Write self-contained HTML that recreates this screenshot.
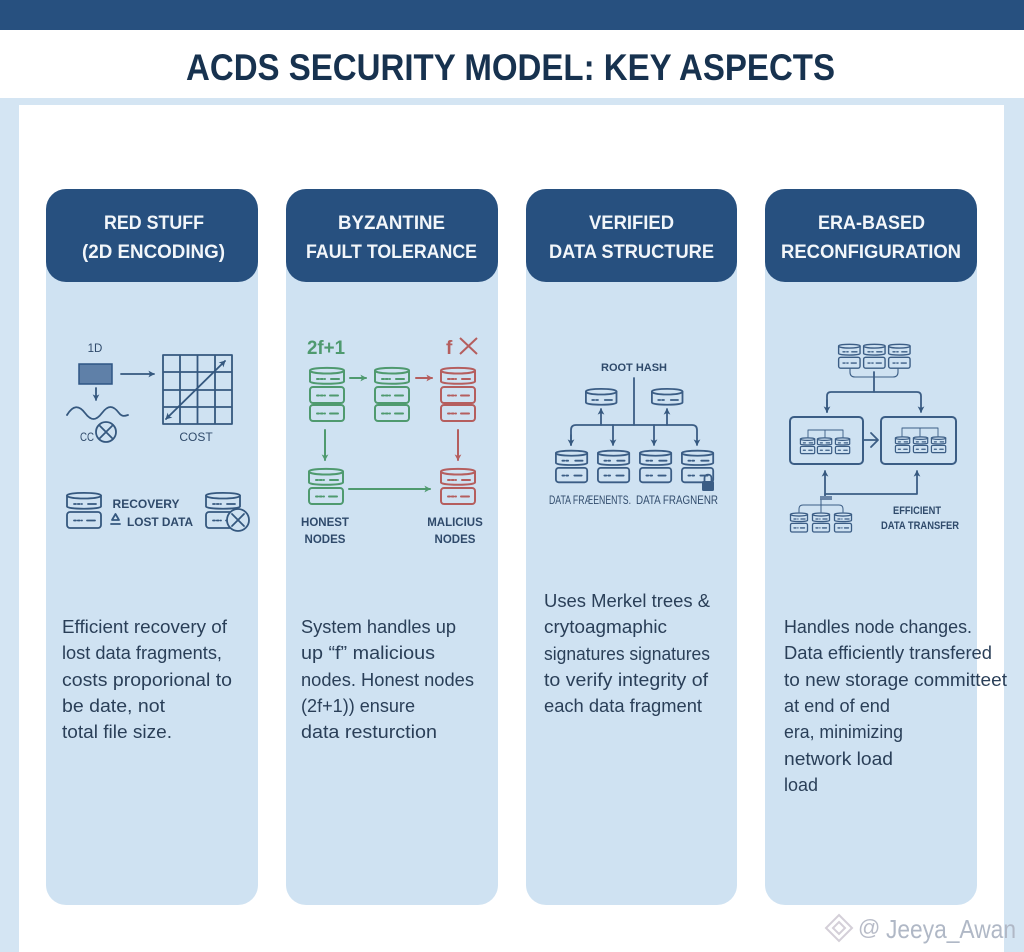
<!DOCTYPE html>
<html><head><meta charset="utf-8"><style>
html,body{margin:0;padding:0;background:#fff}
svg{display:block;font-family:"Liberation Sans",sans-serif;filter:blur(.3px)}
.h{font-size:19px;font-weight:bold;fill:#f2f6fa}
.b{font-size:18px;fill:#2a3f58}
.l{font-size:11.5px;fill:#2f4a6b}
.n{fill:none;stroke:currentColor;stroke-width:var(--sw,1.8);stroke-linecap:round;stroke-linejoin:round;vector-effect:non-scaling-stroke}
</style></head><body>
<svg width="1024" height="952" viewBox="0 0 1024 952" xmlns="http://www.w3.org/2000/svg">
<defs>
<marker id="a" viewBox="0 0 10 10" refX="8" refY="5" markerWidth="8" markerHeight="8" markerUnits="userSpaceOnUse" orient="auto-start-reverse"><path d="M1 0.8L9 5L1 9.2L3 5Z" fill="#35587f"/></marker>
<marker id="g" viewBox="0 0 10 10" refX="8" refY="5" markerWidth="8" markerHeight="8" markerUnits="userSpaceOnUse" orient="auto"><path d="M1 0.8L9 5L1 9.2L3 5Z" fill="#4f9a6f"/></marker>
<marker id="r" viewBox="0 0 10 10" refX="8" refY="5" markerWidth="8" markerHeight="8" markerUnits="userSpaceOnUse" orient="auto"><path d="M1 0.8L9 5L1 9.2L3 5Z" fill="#b55e5e"/></marker>
<g id="top"><path class="n" d="M1 4.5C1 1 35 1 35 4.5V15.500C35 18.500 1 18.500 1 15.500Z"/><path class="n" d="M1 4.5C1 8.500 35 8.500 35 4.5"/><path class="n" stroke-dasharray="2 1.8" d="M8 13H16"/><path class="n" d="M22 13H30"/></g>
<g id="tier"><rect class="n" x="1" y="0" width="34" height="16" rx="3"/><path class="n" stroke-dasharray="2 1.8" d="M8 8.500H16"/><path class="n" d="M21 8.500H29"/></g>
<g id="s3"><use href="#top" y="0"/><use href="#tier" y="21"/><use href="#tier" y="39"/></g>
<g id="s2"><use href="#top" y="0"/><use href="#tier" y="21"/></g>
</defs>

<rect width="1024" height="952" fill="#fff"/>
<rect width="1024" height="30" fill="#27507f"/>
<rect y="98" width="1024" height="854" fill="#d4e5f3"/>
<rect x="19" y="105" width="985" height="847" fill="#fff"/>
<text x="186" y="80" font-size="37" font-weight="bold" fill="#17324f" textLength="649" lengthAdjust="spacingAndGlyphs">ACDS SECURITY MODEL: KEY ASPECTS</text>

<!-- columns -->
<g fill="#cfe2f2">
<rect x="46" y="200" width="212" height="705" rx="20"/>
<rect x="286" y="200" width="212" height="705" rx="20"/>
<rect x="526" y="200" width="211" height="705" rx="20"/>
<rect x="765" y="200" width="212" height="705" rx="20"/>
</g>
<g fill="#27507f">
<rect x="46" y="189" width="212" height="93" rx="20"/>
<rect x="286" y="189" width="212" height="93" rx="20"/>
<rect x="526" y="189" width="211" height="93" rx="20"/>
<rect x="765" y="189" width="212" height="93" rx="20"/>
</g>
<text class="h" x="104" y="229" textLength="100" lengthAdjust="spacingAndGlyphs">RED STUFF</text>
<text class="h" x="82" y="258" textLength="143" lengthAdjust="spacingAndGlyphs">(2D ENCODING)</text>
<text class="h" x="338" y="229" textLength="107" lengthAdjust="spacingAndGlyphs">BYZANTINE</text>
<text class="h" x="306" y="258" textLength="171" lengthAdjust="spacingAndGlyphs">FAULT TOLERANCE</text>
<text class="h" x="589" y="229" textLength="85" lengthAdjust="spacingAndGlyphs">VERIFIED</text>
<text class="h" x="549" y="258" textLength="165" lengthAdjust="spacingAndGlyphs">DATA STRUCTURE</text>
<text class="h" x="818" y="229" textLength="107" lengthAdjust="spacingAndGlyphs">ERA-BASED</text>
<text class="h" x="781" y="258" textLength="180" lengthAdjust="spacingAndGlyphs">RECONFIGURATION</text>

<!-- col 1 diagram -->
<g color="#35587f">
<text class="l" x="95" y="352" text-anchor="middle">1D</text>
<rect x="79" y="364" width="33" height="20" fill="#5f80a8" stroke="#2f5584" stroke-width="1.5"/>
<path class="n" d="M121 374H154" marker-end="url(#a)"/>
<path class="n" d="M96 388V400" marker-end="url(#a)"/>
<path class="n" d="M67 415C73 405 79 405 85 413C91 421 96 421 102 413C108 405 113 405 119 413C122 417 125 416 128 415"/>
<text class="l" x="80" y="441" textLength="14" lengthAdjust="spacingAndGlyphs">CC</text>
<circle class="n" cx="106" cy="432" r="10"/><path class="n" d="M100 426L112 438M112 426L100 438"/>
<path class="n" d="M163 355H232V424H163ZM180 355V424M197.500 355V424M215 355V424M163 372H232M163 390H232M163 407H232"/>
<path class="n" d="M166 419L225 361" marker-start="url(#a)" marker-end="url(#a)"/>
<text class="l" x="196" y="441" text-anchor="middle" style="font-size:12px">COST</text>
<use href="#s2" x="66" y="491"/>
<text class="l" x="146" y="508" text-anchor="middle" style="font-size:12px;font-weight:bold">RECOVERY</text>
<path class="n" d="M111 524H120M112 520L115.500 514L119 520Z"/>
<text class="l" x="127" y="526" textLength="66" lengthAdjust="spacingAndGlyphs" style="font-size:12px;font-weight:bold">LOST DATA</text>
<use href="#s2" x="205" y="491"/>
<circle cx="238" cy="520" r="11" fill="#cfe2f2" stroke="currentColor" stroke-width="1.8"/><path class="n" d="M232 514L244 526M244 514L232 526"/>
</g>

<!-- col 2 diagram -->
<text x="307" y="354" font-size="19" font-weight="bold" fill="#4f9a6f" textLength="38" lengthAdjust="spacingAndGlyphs">2f+1</text>
<text x="446" y="354" font-size="19" font-weight="bold" fill="#b55e5e">f</text>
<path d="M460 338L477 354M477 338L460 354" stroke="#b55e5e" stroke-width="2" fill="none"/>
<g color="#4f9a6f" style="--sw:2">
<use href="#s3" x="309" y="366"/><use href="#s3" x="374" y="366"/><use href="#s2" x="308" y="467"/>
<path class="n" d="M350 378H366" marker-end="url(#g)"/>
<path class="n" d="M325 430V460" marker-end="url(#g)"/>
<path class="n" d="M349 489H430" marker-end="url(#g)"/>
</g>
<g color="#b55e5e" style="--sw:2">
<use href="#s3" x="440" y="366"/><use href="#s2" x="440" y="467"/>
<path class="n" d="M416 378H432" marker-end="url(#r)"/>
<path class="n" d="M458 430V460" marker-end="url(#r)"/>
</g>
<text class="l" x="325" y="526" text-anchor="middle" font-weight="bold">HONEST</text>
<text class="l" x="325" y="543" text-anchor="middle" font-weight="bold">NODES</text>
<text class="l" x="455" y="526" text-anchor="middle" font-weight="bold">MALICIUS</text>
<text class="l" x="455" y="543" text-anchor="middle" font-weight="bold">NODES</text>

<!-- col 3 diagram -->
<g color="#3b5d85">
<text class="l" x="634" y="371" text-anchor="middle" font-weight="bold" style="font-size:11px">ROOT HASH</text>
<path class="n" d="M634 378V425"/>
<use href="#top" transform="translate(585 387) scale(.9 1)"/>
<use href="#top" transform="translate(651 387) scale(.9 1)"/>
<path class="n" d="M601 425V409" marker-end="url(#a)"/>
<path class="n" d="M667 425V409" marker-end="url(#a)"/>
<path class="n" d="M571 445V430Q571 425 576 425H692Q697 425 697 430V445" marker-end="url(#a)"/>
<path class="n" d="M571 435V445" marker-end="url(#a)"/>
<path class="n" d="M613 425V445" marker-end="url(#a)"/>
<path class="n" d="M654 425V445" marker-end="url(#a)"/>
<use href="#s2" transform="translate(555 449) scale(.92 .9)"/>
<use href="#s2" transform="translate(597 449) scale(.92 .9)"/>
<use href="#s2" transform="translate(639 449) scale(.92 .9)"/>
<use href="#s2" transform="translate(681 449) scale(.92 .9)"/>
<rect x="702" y="481" width="12" height="10" rx="1.500" fill="#3b5d85"/>
<path class="n" d="M704.500 481V478C704.500 473.500 711.500 473.500 711.500 478V481"/>
<text class="l" x="549" y="504" textLength="82" lengthAdjust="spacingAndGlyphs">DATA FRÆENENTS.</text>
<text class="l" x="636" y="504" textLength="82" lengthAdjust="spacingAndGlyphs">DATA FRAGNENR</text>
</g>

<!-- col 4 diagram -->
<g color="#3b5d85">
<g style="--sw:1.4">
<use href="#s2" transform="translate(838 343) scale(.63 .68)"/>
<use href="#s2" transform="translate(863 343) scale(.63 .68)"/>
<use href="#s2" transform="translate(888 343) scale(.63 .68)"/>
</g>
<path class="n" style="--sw:1.1" d="M850 369V372Q850 377 855 377H893Q898 377 898 372V369"/>
<path class="n" d="M874 372V392"/>
<path class="n" d="M827 412V396Q827 392 831 392H917Q921 392 921 396V412" marker-end="url(#a)"/>
<path class="n" d="M827 400V412" marker-end="url(#a)"/>
<rect x="790" y="417" width="73" height="47" rx="4" fill="none" stroke="currentColor" stroke-width="2"/>
<rect x="881" y="417" width="75" height="47" rx="4" fill="none" stroke="currentColor" stroke-width="2"/>
<path class="n" d="M864 440H877M871 433L878 440L871 447"/>
<g style="--sw:1.2">
<use href="#s2" transform="translate(800 437) scale(.42 .45)"/>
<use href="#s2" transform="translate(817 437) scale(.42 .45)"/>
<use href="#s2" transform="translate(835 437) scale(.42 .45)"/>
<use href="#s2" transform="translate(895 436) scale(.42 .45)"/>
<use href="#s2" transform="translate(913 436) scale(.42 .45)"/>
<use href="#s2" transform="translate(931 436) scale(.42 .45)"/>
</g>
<path class="n" style="--sw:.9" d="M808 437V430H843V437M825 430V437"/>
<path class="n" style="--sw:.9" d="M902 436V428H938V436M920 428V436"/>
<path class="n" d="M825 496V471" marker-end="url(#a)"/>
<path class="n" d="M825 494H917V471" marker-end="url(#a)"/>
<rect x="820" y="496" width="12" height="4" fill="#6a86a8"/>
<path class="n" style="--sw:1" d="M799 512V509Q799 505 803 505H839Q843 505 843 509V512M821 500V512"/>
<g style="--sw:1.3">
<use href="#s2" transform="translate(790 512) scale(.5 .54)"/>
<use href="#s2" transform="translate(812 512) scale(.5 .54)"/>
<use href="#s2" transform="translate(834 512) scale(.5 .54)"/>
</g>
<text class="l" x="893" y="514" textLength="48" lengthAdjust="spacingAndGlyphs" font-weight="bold" style="font-size:11px">EFFICIENT</text>
<text class="l" x="881" y="529" textLength="78" lengthAdjust="spacingAndGlyphs" font-weight="bold" style="font-size:11px">DATA TRANSFER</text>
</g>

<!-- body text -->
<text class="b" x="62" y="633" textLength="165" lengthAdjust="spacingAndGlyphs">Efficient recovery of</text>
<text class="b" x="62" y="659" textLength="160" lengthAdjust="spacingAndGlyphs">lost data fragments,</text>
<text class="b" x="62" y="686" textLength="170" lengthAdjust="spacingAndGlyphs">costs proporional to</text>
<text class="b" x="62" y="712" textLength="103" lengthAdjust="spacingAndGlyphs">be date, not</text>
<text class="b" x="62" y="738" textLength="110" lengthAdjust="spacingAndGlyphs">total file size.</text>

<text class="b" x="301" y="633" textLength="155" lengthAdjust="spacingAndGlyphs">System handles up</text>
<text class="b" x="301" y="659" textLength="134" lengthAdjust="spacingAndGlyphs">up “f” malicious</text>
<text class="b" x="301" y="686" textLength="173" lengthAdjust="spacingAndGlyphs">nodes. Honest nodes</text>
<text class="b" x="301" y="712" textLength="114" lengthAdjust="spacingAndGlyphs">(2f+1)) ensure</text>
<text class="b" x="301" y="738" textLength="136" lengthAdjust="spacingAndGlyphs">data resturction</text>

<text class="b" x="544" y="607" textLength="166" lengthAdjust="spacingAndGlyphs">Uses Merkel trees &amp;</text>
<text class="b" x="544" y="633" textLength="123" lengthAdjust="spacingAndGlyphs">crytoagmaphic</text>
<text class="b" x="544" y="660" textLength="166" lengthAdjust="spacingAndGlyphs">signatures signatures</text>
<text class="b" x="544" y="686" textLength="164" lengthAdjust="spacingAndGlyphs">to verify integrity of</text>
<text class="b" x="544" y="712" textLength="158" lengthAdjust="spacingAndGlyphs">each data fragment</text>

<text class="b" x="784" y="633" textLength="188" lengthAdjust="spacingAndGlyphs">Handles node changes.</text>
<text class="b" x="784" y="659" textLength="208" lengthAdjust="spacingAndGlyphs">Data efficiently transfered</text>
<text class="b" x="784" y="686" textLength="223" lengthAdjust="spacingAndGlyphs">to new storage committeet</text>
<text class="b" x="784" y="712" textLength="106" lengthAdjust="spacingAndGlyphs">at end of end</text>
<text class="b" x="784" y="738" textLength="119" lengthAdjust="spacingAndGlyphs">era, minimizing</text>
<text class="b" x="784" y="765" textLength="109" lengthAdjust="spacingAndGlyphs">network load</text>
<text class="b" x="784" y="791" textLength="34" lengthAdjust="spacingAndGlyphs">load</text>

<!-- watermark -->
<g fill="none" stroke="#d4cfd8" stroke-width="2">
<path d="M839 915L852 928L839 941L826 928Z"/><path d="M839 922L845 928L839 934L833 928Z"/>
</g>
<text x="858" y="935" font-size="22" fill="#b8bcc8">@</text>
<text x="886" y="938" font-size="26" fill="#b0b8c6" textLength="130" lengthAdjust="spacingAndGlyphs">Jeeya_Awan</text>
</svg>
</body></html>
